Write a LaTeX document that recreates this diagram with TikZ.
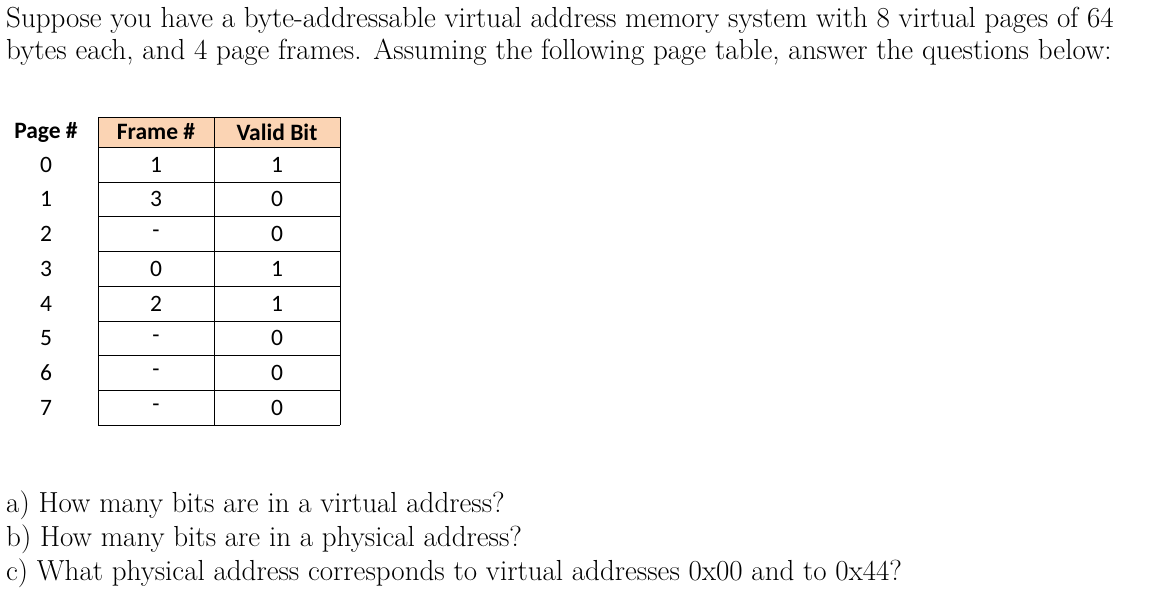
\documentclass[tikz,border=0pt]{standalone}
\usepackage{fontspec}
\newfontfamily\calfont{Carlito}
\definecolor{hdr}{HTML}{FBD4B4}
\begin{document}
\begin{tikzpicture}[x=1pt,y=-1pt,
  txt/.style={anchor=base west,inner sep=0pt,font=\fontsize{29}{34}\selectfont},
  cell/.style={font=\calfont\fontsize{23.5}{26}\selectfont,inner sep=0pt,anchor=center},
  hcell/.style={cell,font=\calfont\bfseries\fontsize{23.5}{26}\selectfont}]
\useasboundingbox (0,0) rectangle (1150,598);
\node[txt] (l1) at (6,27) {Suppose you have a byte-addressable virtual address memory system with 8 virtual pages of 64};
\node[txt] (l2) at (6,59) {bytes each, and 4 page frames. Assuming the following page table, answer the questions below:};
\fill[hdr] (98,117) rectangle (340,147);
\draw[line width=0.8pt] (98,117) -- (340,117);
\foreach \y in {147,182,216,251,286,321,355,390,425} \draw[line width=0.8pt] (98,\y) -- (340,\y);
\foreach \x in {98,214,340} \draw[line width=0.8pt] (\x,117) -- (\x,425);
\node[hcell] (hp) at (46,132) {Page \#};
\node[hcell] (hf) at (156,132) {Frame \#};
\node[hcell] (hv) at (277,132) {Valid Bit};
\foreach \p/\f/\v [count=\i from 0] in {0/1/1,1/3/0,2/-/0,3/0/1,4/2/1,5/-/0,6/-/0,7/-/0}{
  \pgfmathsetmacro\yy{164.5+34.75*\i}
  \node[cell] (p\i) at (46,\yy) {\p};
  \node[cell] (f\i) at (156,\yy) {\f};
  \node[cell] (v\i) at (277,\yy) {\v};
}
\node[txt] (qa) at (6,512) {a) How many bits are in a virtual address?};
\node[txt] (qb) at (6,546) {b) How many bits are in a physical address?};
\node[txt] (qc) at (6,580) {c) What physical address corresponds to virtual addresses 0x00 and to 0x44?};
\end{tikzpicture}
\end{document}
